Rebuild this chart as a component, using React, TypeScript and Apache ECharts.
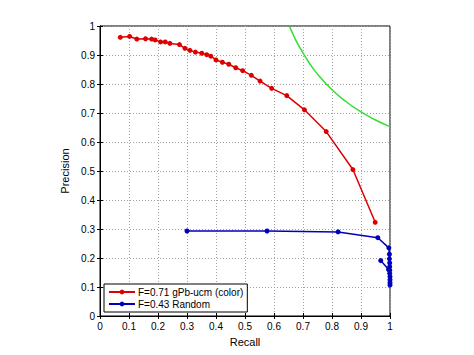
import React, { useEffect, useRef } from "react";
import * as echarts from "echarts";

const redRecall = [0.07, 0.102, 0.127, 0.157, 0.178, 0.19, 0.209, 0.225, 0.241, 0.274, 0.293, 0.31, 0.329, 0.351, 0.368, 0.382, 0.4, 0.422, 0.444, 0.468, 0.492, 0.522, 0.552, 0.592, 0.644, 0.705, 0.78, 0.872, 0.949];
const redPrecision = [0.961, 0.964, 0.955, 0.956, 0.955, 0.952, 0.945, 0.945, 0.94, 0.936, 0.923, 0.916, 0.91, 0.906, 0.901, 0.896, 0.883, 0.875, 0.868, 0.856, 0.846, 0.83, 0.81, 0.785, 0.76, 0.711, 0.636, 0.505, 0.323];

const blueRecall = [0.3, 0.576, 0.821, 0.958, 0.996, 0.998, 0.998, 0.999, 0.999, 0.999, 0.999, 1.0, 1.0, 1.0, 1.0, 0.995, 0.968];
const bluePrecision = [0.293, 0.293, 0.29, 0.27, 0.235, 0.213, 0.197, 0.183, 0.17, 0.158, 0.147, 0.136, 0.125, 0.115, 0.107, 0.16, 0.191];

const greenRecall = [0.653, 0.66, 0.67, 0.68, 0.7, 0.72, 0.75, 0.8, 0.85, 0.9, 0.95, 1.0];
const greenPrecision = [1.0, 0.984, 0.962, 0.942, 0.907, 0.875, 0.834, 0.78, 0.738, 0.704, 0.676, 0.653];

const seriesNames = ["F=0.71 gPb-ucm (color)", "F=0.43 Random"];

const zip = (a: number[], b: number[]) => a.map((v, i) => [v, b[i]]);

export default function App() {
  const ref = useRef<HTMLDivElement>(null);
  useEffect(() => {
    if (!ref.current) return;
    const chart = echarts.init(ref.current, undefined, { renderer: "svg" });
    const font = "'Liberation Sans', Arial, sans-serif";
    const splitLine = { show: true, lineStyle: { color: "#a0a0a0", type: [1, 2] as any, width: 1 } };
    chart.setOption({
      animation: false,
      backgroundColor: "#ffffff",
      textStyle: { fontFamily: font },
      grid: { left: 100, top: 26, width: 290, height: 290, show: true, borderColor: "#000", borderWidth: 1, backgroundColor: "#fff" },
      xAxis: [
        {
          type: "value", min: 0, max: 1, interval: 0.1,
          name: "Recall", nameLocation: "middle", nameGap: 20,
          nameTextStyle: { fontSize: 11, color: "#000", fontFamily: font },
          axisLine: { show: true, lineStyle: { color: "#000" } },
          axisTick: { show: true, inside: true, length: 3, lineStyle: { color: "#000" } },
          axisLabel: { fontSize: 10, color: "#000", margin: 5, fontFamily: font },
          splitLine,
        },
        {
          type: "value", min: 0, max: 1, interval: 0.1, position: "top",
          axisLine: { show: true, lineStyle: { color: "#000" } },
          axisTick: { show: true, inside: true, length: 3, lineStyle: { color: "#000" } },
          axisLabel: { show: false }, splitLine: { show: false },
        },
      ],
      yAxis: [
        {
          type: "value", min: 0, max: 1, interval: 0.1,
          name: "Precision", nameLocation: "middle", nameGap: 28, nameRotate: 90,
          nameTextStyle: { fontSize: 11, color: "#000", fontFamily: font },
          axisLine: { show: true, lineStyle: { color: "#000" } },
          axisTick: { show: true, inside: true, length: 3, lineStyle: { color: "#000" } },
          axisLabel: { fontSize: 10, color: "#000", margin: 5, fontFamily: font },
          splitLine,
        },
        {
          type: "value", min: 0, max: 1, interval: 0.1, position: "right",
          axisLine: { show: true, lineStyle: { color: "#000" } },
          axisTick: { show: true, inside: true, length: 3, lineStyle: { color: "#000" } },
          axisLabel: { show: false }, splitLine: { show: false },
        },
      ],
      legend: {
        data: seriesNames,
        orient: "vertical",
        left: 104, top: 284,
        itemWidth: 26, itemHeight: 6, itemGap: 2,
        padding: [3, 4, 3, 4],
        backgroundColor: "#fff",
        borderColor: "#000", borderWidth: 1, borderRadius: 0,
        textStyle: { fontSize: 10, color: "#000", fontFamily: font, padding: [0, 0, 0, -2] },
      },
      series: [
        {
          name: "iso-F", type: "line", data: zip(greenRecall, greenPrecision),
          smooth: true, showSymbol: false, symbol: "none",
          lineStyle: { color: "#33dd33", width: 1.5 }, itemStyle: { color: "#33dd33" }, z: 1,
        },
        {
          name: seriesNames[0], type: "line", data: zip(redRecall, redPrecision),
          symbol: "circle", symbolSize: 5,
          lineStyle: { color: "#dd0000", width: 1.5 }, itemStyle: { color: "#dd0000" }, z: 3,
        },
        {
          name: seriesNames[1], type: "line", data: zip(blueRecall, bluePrecision),
          symbol: "circle", symbolSize: 5,
          lineStyle: { color: "#0000bb", width: 1.5 }, itemStyle: { color: "#0000bb" }, z: 3,
        },
      ],
    });
    return () => chart.dispose();
  }, []);
  return <div ref={ref} style={{ position: "absolute", left: 0, top: 0, width: 474, height: 355 }} />;
}
